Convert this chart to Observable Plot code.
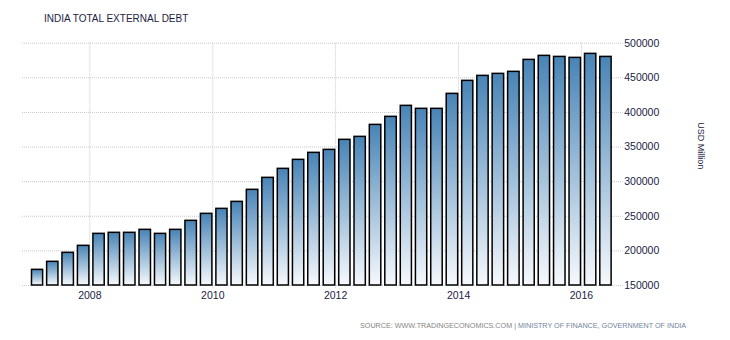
<!DOCTYPE html>
<html>
<head>
<meta charset="utf-8">
<script src="https://cdn.jsdelivr.net/npm/d3@7"></script>
<script src="https://cdn.jsdelivr.net/npm/@observablehq/plot@0.6"></script>
<style>
  html, body { margin: 0; padding: 0; background: #fff; width: 730px; height: 340px; overflow: hidden; }
  #title { height: 30px; box-sizing: border-box; padding: 12px 0 0 44px; font: 10px "Liberation Sans", Arial, sans-serif; line-height: 13px; color: #1c1c44; }
  #chart svg { display: block; }
  #caption { height: 30px; box-sizing: border-box; padding: 10px 0 0 360px; font: 7.2px "Liberation Sans", Arial, sans-serif; line-height: 12px; color: #858585; white-space: nowrap; }
  #caption .src2 { color: #72839b; }
</style>
</head>
<body>
<div id="title">INDIA TOTAL EXTERNAL DEBT</div>
<div id="chart"></div>
<div id="caption">SOURCE: WWW.TRADINGECONOMICS.COM <span class="src2">| MINISTRY OF FINANCE, GOVERNMENT OF INDIA</span></div>
<script>
// Quarter (month of quarter end)
const quarters = [
  "2007-03","2007-06","2007-09","2007-12",
  "2008-03","2008-06","2008-09","2008-12",
  "2009-03","2009-06","2009-09","2009-12",
  "2010-03","2010-06","2010-09","2010-12",
  "2011-03","2011-06","2011-09","2011-12",
  "2012-03","2012-06","2012-09","2012-12",
  "2013-03","2013-06","2013-09","2013-12",
  "2014-03","2014-06","2014-09","2014-12",
  "2015-03","2015-06","2015-09","2015-12",
  "2016-03","2016-06"
];
// External debt, USD million
const debt = [
  172600, 184200, 197200, 207300,
  224600, 226100, 226100, 230400,
  224600, 230400, 243400, 253500,
  260700, 270800, 288200, 305500,
  318500, 331500, 341600, 345900,
  360400, 364700, 382000, 393600,
  409500, 405200, 405200, 426800,
  445600, 452800, 455700, 458600,
  475900, 481700, 480200, 478800,
  484600, 480200
];
const yTicks = [150000, 200000, 250000, 300000, 350000, 400000, 450000, 500000];
const xTickYears = ["2008", "2010", "2012", "2014", "2016"];
const yLabel = "USD Million";

const xTicks = xTickYears.map(y => new Date(y + "-01-01T00:00:00Z"));
const rows = quarters.map((q, i) => {
  const end = d3.utcMonth.offset(new Date(q + "-01T00:00:00Z"), 1);
  return {start: d3.utcMonth.offset(end, -3), end, value: debt[i]};
});

const grid = "#c8c8c8";
const svg = Plot.plot({
  width: 730,
  height: 280,
  marginTop: 12.7,
  marginBottom: 25,
  marginLeft: 22,
  marginRight: 117.3,
  x: {type: "utc", domain: [new Date("2006-11-27T00:00:00Z"), new Date("2016-07-08T00:00:00Z")], axis: null},
  y: {domain: [150000, 500000], axis: null},
  style: {fontFamily: "'Liberation Sans', Arial, sans-serif", fontSize: "10.5px", color: "#1c1c44", background: "transparent"},
  marks: [
    Plot.ruleY(yTicks, {stroke: grid, strokeDasharray: "1,1", insetRight: -10}),
    Plot.ruleX(xTicks, {stroke: grid, strokeDasharray: "1,1", insetBottom: -3.5}),
    Plot.rectY(rows, {x1: "start", x2: "end", y1: 150000, y2: "value", insetLeft: 3.6, insetRight: 0.4,
      fill: "url(#barGrad)", stroke: "#000", strokeWidth: 1.5}),
    Plot.axisY(yTicks, {anchor: "right", tickSize: 0, tickPadding: 11, tickFormat: d3.format("d"), label: null}),
    Plot.axisX(xTicks, {anchor: "bottom", tickSize: 0, tickPadding: 6.5, tickFormat: d3.utcFormat("%Y"), label: null}),
    Plot.text([yLabel], {frameAnchor: "right", rotate: 90, dx: 87.3, dy: 5, fontSize: 9, fill: "#1c1c44"})
  ]
});

const defs = d3.select(svg).insert("defs", ":first-child");
const grad = defs.append("linearGradient").attr("id", "barGrad").attr("x1", 0).attr("y1", 0).attr("x2", 0).attr("y2", 1);
grad.append("stop").attr("offset", "0%").attr("stop-color", "#4884b6");
grad.append("stop").attr("offset", "100%").attr("stop-color", "#f6f9fc");

document.getElementById("chart").appendChild(svg);
</script>
</body>
</html>
